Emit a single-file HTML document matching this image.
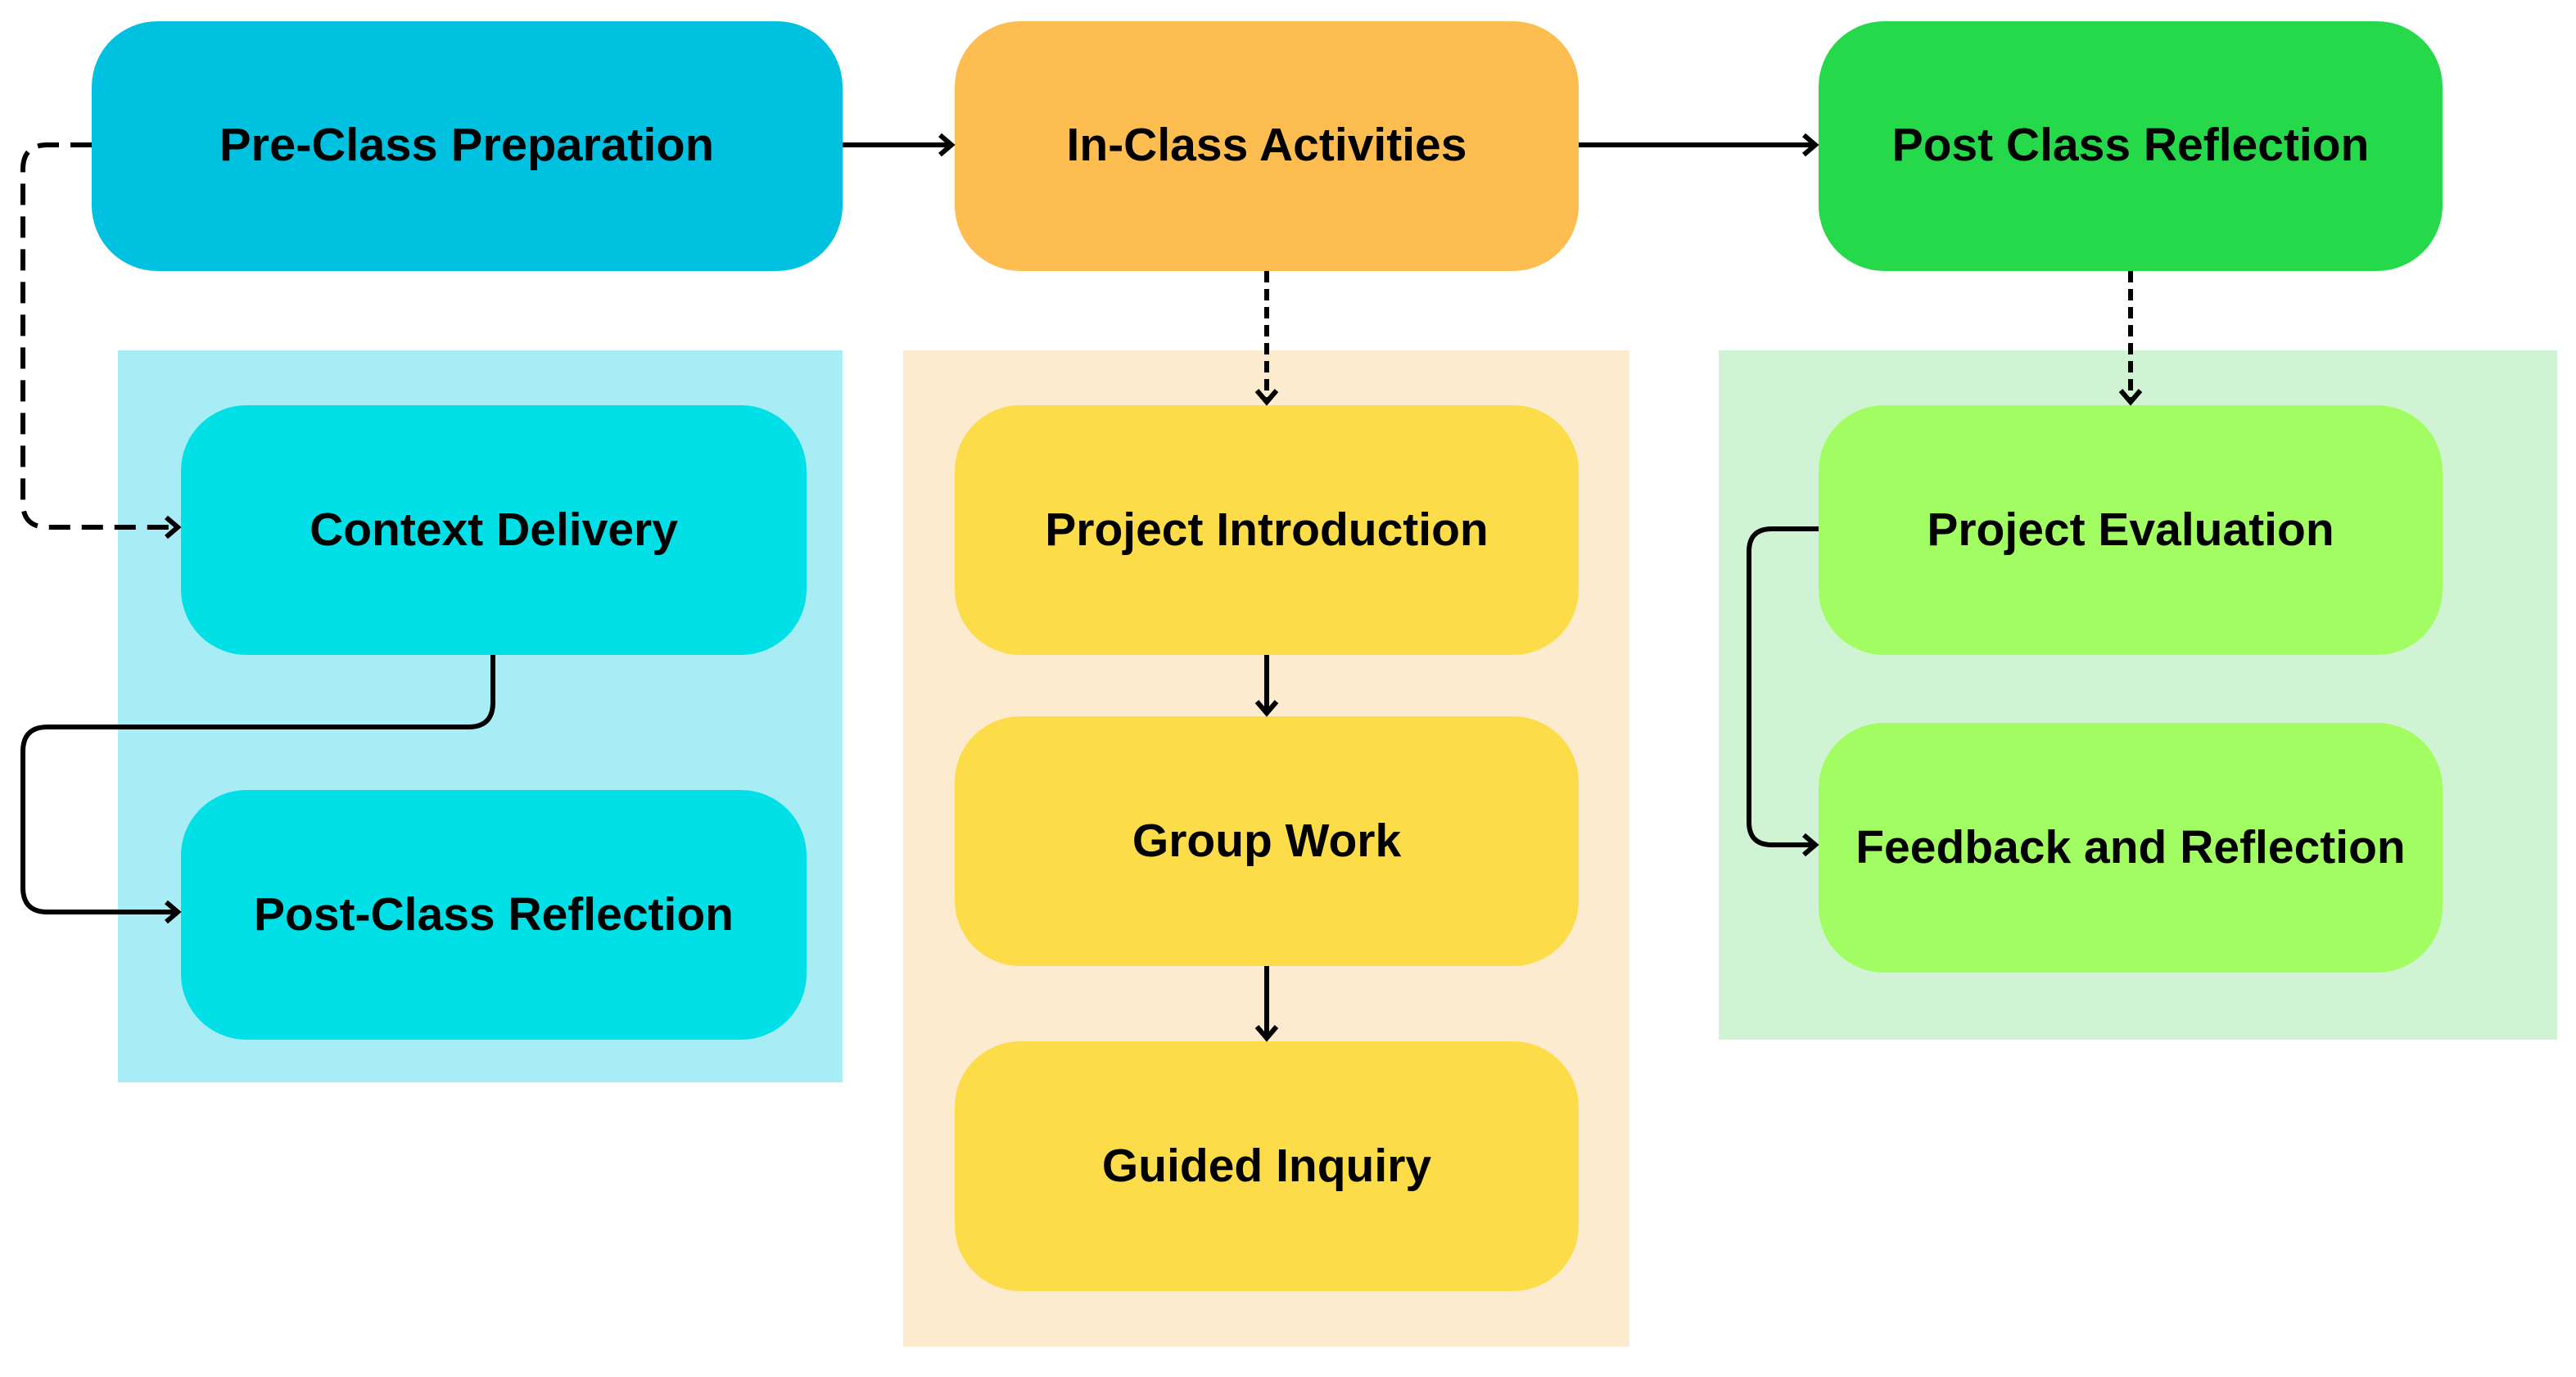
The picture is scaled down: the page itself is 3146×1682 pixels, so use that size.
<!DOCTYPE html>
<html><head><style>
body{margin:0;background:#fff}
svg text{font-family:"Liberation Sans",Arial,sans-serif;font-weight:bold;font-size:57px;fill:#000;text-anchor:middle;dominant-baseline:central}
</style></head><body>
<svg width="3146" height="1677" viewBox="0 0 3146 1677" xmlns="http://www.w3.org/2000/svg">
<rect x="144" y="428" width="885" height="894" fill="#a8ecf6"/>
<rect x="1103" y="428" width="887" height="1217" fill="#fdebd0"/>
<rect x="2099" y="428" width="1024" height="842" fill="#d0f4d3"/>

<rect x="112" y="26" width="917" height="305" rx="80" fill="#00c2e0"/>
<rect x="1166" y="26" width="762" height="305" rx="80" fill="#fdbd50"/>
<rect x="2221" y="26" width="762" height="305" rx="80" fill="#26d94a"/>

<rect x="221" y="495" width="764" height="305" rx="80" fill="#00e0e6"/>
<rect x="221" y="965" width="764" height="305" rx="80" fill="#00e0e6"/>
<rect x="1166" y="495" width="762" height="305" rx="80" fill="#fddc4a"/>
<rect x="1166" y="875" width="762" height="305" rx="80" fill="#fddc4a"/>
<rect x="1166" y="1272" width="762" height="305" rx="80" fill="#fddc4a"/>
<rect x="2221" y="495" width="762" height="305" rx="80" fill="#a2fd62"/>
<rect x="2221" y="883" width="762" height="305" rx="80" fill="#a2fd62"/>

<g fill="none" stroke="#000" stroke-width="6">
<path d="M1029 177 H1160"/><path d="M1148 165 L1162 177 L1148 189"/>
<path d="M1928 177 H2215"/><path d="M2203 165 L2217 177 L2203 189"/>
<path d="M112 177 H58 Q28 177 28 207 V614 Q28 644 58 644 H215" stroke-dasharray="26 14"/><path d="M203 632 L217 644 L203 656"/>
<path d="M1547 331 V489" stroke-dasharray="14 8"/><path d="M1535 477 L1547 491 L1559 477"/>
<path d="M2602 331 V489" stroke-dasharray="14 8"/><path d="M2590 477 L2602 491 L2614 477"/>
<path d="M602 800 V858 Q602 888 572 888 H58 Q28 888 28 918 V1084 Q28 1114 58 1114 H215"/><path d="M203 1102 L217 1114 L203 1126"/>
<path d="M1547 800 V869"/><path d="M1535 857 L1547 871 L1559 857"/>
<path d="M1547 1180 V1266"/><path d="M1535 1254 L1547 1268 L1559 1254"/>
<path d="M2221 646 H2164 Q2136 646 2136 674 V1004 Q2136 1032 2164 1032 H2215"/><path d="M2203 1020 L2217 1032 L2203 1044"/>
</g>

<text x="570" y="177" textLength="604" lengthAdjust="spacingAndGlyphs">Pre-Class Preparation</text>
<text x="1547" y="177">In-Class Activities</text>
<text x="2602" y="177">Post Class Reflection</text>
<text x="603" y="647">Context Delivery</text>
<text x="603" y="1117">Post-Class Reflection</text>
<text x="1547" y="647">Project Introduction</text>
<text x="1547" y="1027">Group Work</text>
<text x="1547" y="1424">Guided Inquiry</text>
<text x="2602" y="647">Project Evaluation</text>
<text x="2602" y="1035">Feedback and Reflection</text>
</svg>
</body></html>
